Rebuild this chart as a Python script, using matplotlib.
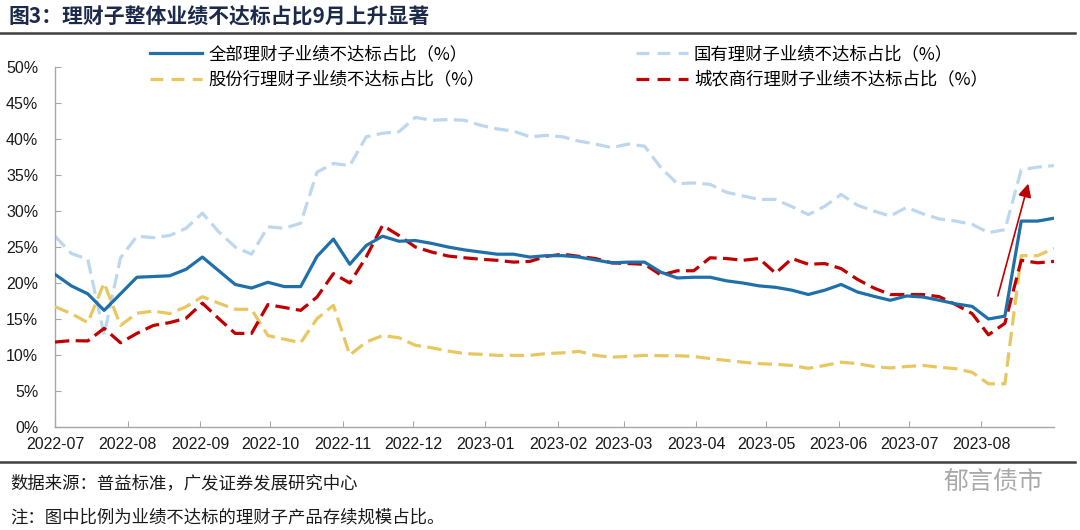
import matplotlib
matplotlib.use("Agg")
import matplotlib.pyplot as plt
import matplotlib.dates as mdates
from matplotlib.lines import Line2D
from matplotlib.ticker import FuncFormatter, MultipleLocator
import pandas as pd

# ---------------- data ----------------
start_date = "2022-07-01"
n_weeks = 62
tick_months = pd.date_range("2022-07-01", "2023-08-01", freq="MS")

all_pct = [21.2, 19.6, 18.5, 16.2, 18.5, 20.8, 20.9, 21.0, 21.9, 23.6,
           21.7, 19.8, 19.3, 20.1, 19.5, 19.5, 23.7, 26.1, 22.6, 25.2,
           26.5, 25.8, 25.9, 25.5, 25.0, 24.6, 24.3, 24.0, 24.0, 23.6,
           23.8, 23.8, 23.6, 23.2, 22.8, 22.9, 22.9, 21.5, 20.7, 20.8,
           20.8, 20.3, 20.0, 19.6, 19.4, 19.0, 18.4, 19.0, 19.8, 18.75,
           18.15, 17.6, 18.2, 18.05, 17.6, 17.1, 16.75, 15.0, 15.4, 28.6,
           28.6, 29.0]

state_pct = [26.5, 24.1, 23.3, 12.8, 23.5, 26.5, 26.3, 26.6, 27.6, 29.7,
             27.1, 25.0, 24.0, 27.8, 27.6, 28.3, 35.4, 36.6, 36.3, 40.3,
             40.8, 41.0, 43.0, 42.6, 42.7, 42.6, 41.9, 41.4, 41.1, 40.3,
             40.5, 40.3, 39.7, 39.3, 38.8, 39.3, 39.0, 36.0, 33.8, 33.9,
             33.7, 32.6, 32.1, 31.6, 31.6, 30.6, 29.5, 30.65, 32.3, 30.8,
             30.0, 29.3, 30.5, 29.6, 28.9, 28.6, 28.15, 27.0, 27.4, 35.7,
             36.1, 36.3]

joint_pct = [16.7, 15.75, 14.5, 20.0, 14.1, 15.8, 16.1, 15.75, 16.7, 18.1,
             17.2, 16.35, 16.35, 12.7, 12.2, 11.7, 15.05, 16.9, 10.0, 11.8,
             12.7, 12.4, 11.35, 11.0, 10.55, 10.2, 10.1, 9.95, 9.95, 9.95,
             10.2, 10.3, 10.5, 9.95, 9.7, 9.8, 9.95, 9.9, 9.9, 9.8,
             9.5, 9.25, 9.0, 8.8, 8.7, 8.55, 8.15, 8.55, 9.0, 8.8,
             8.4, 8.2, 8.4, 8.55, 8.3, 8.1, 7.6, 6.0, 6.0, 23.8,
             23.8, 24.8]

rural_pct = [11.8, 12.0, 11.95, 13.7, 11.7, 13.0, 14.1, 14.5, 15.1, 17.2,
             15.05, 13.0, 13.0, 17.0, 16.6, 16.2, 18.05, 21.3, 20.0, 23.6,
             28.0, 26.6, 25.0, 24.3, 23.75, 23.5, 23.3, 23.15, 22.9, 23.0,
             23.7, 24.0, 23.7, 23.4, 22.8, 22.7, 22.6, 21.1, 21.7, 21.7,
             23.5, 23.4, 23.15, 23.4, 21.35, 23.4, 22.6, 22.7, 22.0, 20.5,
             19.3, 18.4, 18.4, 18.4, 18.1, 17.0, 15.75, 12.8, 14.4, 23.15,
             22.8, 23.0]

labels = ["全部理财子业绩不达标占比（%）", "国有理财子业绩不达标占比（%）",
          "股份行理财子业绩不达标占比（%）", "城农商行理财子业绩不达标占比（%）"]
title = "图3：理财子整体业绩不达标占比9月上升显著"
source = "数据来源：普益标准，广发证券发展研究中心"
note = "注：图中比例为业绩不达标的理财子产品存续规模占比。"
watermark = "郁言债市"

dates = pd.date_range(start_date, periods=n_weeks, freq="7D")

# ---------------- style ----------------
CJK = ["Noto Sans CJK SC", "DejaVu Sans"]
plt.rcParams["font.family"] = ["Liberation Sans", "Noto Sans CJK SC", "DejaVu Sans"]

c_all = "#1F6FAA"
c_state = "#BDD7EE"
c_joint = "#E8C760"
c_rural = "#C00000"
dash = (4.5, 2.0)

W, H = 1080, 530
fig = plt.figure(figsize=(W / 100, H / 100), dpi=100)
ax = fig.add_axes([55 / W, 1 - 427 / H, 999 / W, 360 / H])

ax.plot(dates, state_pct, color=c_state, lw=2.3, ls=(0, dash), label=labels[1], zorder=2)
ax.plot(dates, joint_pct, color=c_joint, lw=2.3, ls=(0, dash), label=labels[2], zorder=3)
ax.plot(dates, rural_pct, color=c_rural, lw=2.3, ls=(0, dash), label=labels[3], zorder=4)
ax.plot(dates, all_pct, color=c_all, lw=2.3, label=labels[0], zorder=5)

ax.set_ylim(0, 50)
ax.set_xlim(dates[0], dates[-1])
ax.yaxis.set_major_locator(MultipleLocator(5))
ax.yaxis.set_major_formatter(FuncFormatter(lambda v, p: f"{v:.0f}%"))
ax.set_xticks(tick_months)
ax.xaxis.set_major_formatter(mdates.DateFormatter("%Y-%m"))

for s in ["top", "right"]:
    ax.spines[s].set_visible(False)
for s in ["left", "bottom"]:
    ax.spines[s].set_color("#A6A6A6")
    ax.spines[s].set_linewidth(1.0)
ax.tick_params(axis="both", direction="in", length=4, width=0.8, color="#A6A6A6",
               labelsize=11.5, labelcolor="#1a1a1a")
ax.tick_params(axis="x", pad=7)
ax.tick_params(axis="y", pad=12)

# arrow
ax.annotate("", xy=(pd.Timestamp("2023-08-21"), 33.8), xytext=(pd.Timestamp("2023-08-08"), 18.2),
            arrowprops=dict(arrowstyle="-|>", color=c_rural, lw=1.2, mutation_scale=20,
                            shrinkA=0, shrinkB=0), zorder=6)

# legend
h_all = Line2D([], [], color=c_all, lw=2.3)
h_state = Line2D([], [], color=c_state, lw=2.3, ls=(0, (4, 2.6)))
h_joint = Line2D([], [], color=c_joint, lw=2.3, ls=(0, (4, 2.6)))
h_rural = Line2D([], [], color=c_rural, lw=2.3, ls=(0, (4, 2.6)))
fig.legend([h_all, h_joint, h_state, h_rural], [labels[0], labels[2], labels[1], labels[3]],
           ncol=2, loc="upper left", bbox_to_anchor=(150 / W, 1 - 45 / H),
           bbox_transform=fig.transFigure, frameon=False, prop={"family": CJK, "size": 12.5},
           handlelength=3.0, handletextpad=0.35, columnspacing=8.7, labelspacing=0.45,
           borderpad=0, borderaxespad=0)

# title, lines, footer
fig.text(8 / W, 1 - 17 / H, title, family=CJK, fontsize=15, fontweight="bold",
         color="#1B2A4A", va="center", ha="left")
fig.add_artist(Line2D([0, 1075 / W], [1 - 33 / H, 1 - 33 / H], color="#404040", lw=1.8,
                      transform=fig.transFigure))
fig.add_artist(Line2D([0, 1075 / W], [1 - 462 / H, 1 - 462 / H], color="#404040", lw=1.8,
                      transform=fig.transFigure))
fig.text(10 / W, 1 - 483 / H, source, family=CJK, fontsize=12.5, color="#1a1a1a",
         va="center", ha="left")
fig.text(10 / W, 1 - 517 / H, note, family=CJK, fontsize=12.5, color="#1a1a1a",
         va="center", ha="left")
fig.text(1043 / W, 1 - 483 / H, watermark, family=CJK, fontsize=18, color="#A0A0A0",
         va="center", ha="right", alpha=0.9)

fig.savefig("out.png", dpi=100)
